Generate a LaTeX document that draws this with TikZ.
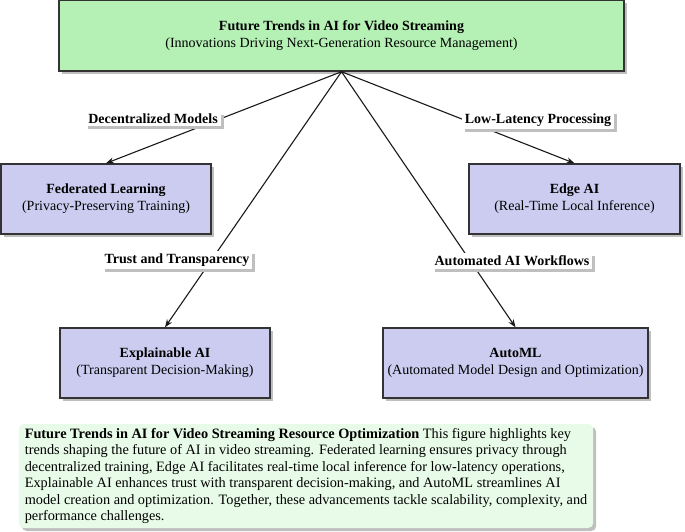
\documentclass[tikz,border=0pt]{standalone}
\usepackage{fontspec}
\setmainfont{Liberation Serif}
\usetikzlibrary{shadows,arrows.meta}
\definecolor{topfill}{HTML}{B5F0B5}
\definecolor{boxfill}{HTML}{CCCCF0}
\definecolor{capfill}{HTML}{E8FAE8}
\definecolor{edgecol}{HTML}{333333}
\begin{document}
\begin{tikzpicture}[x=1pt,y=-1pt,
  font=\fontsize{14}{17}\selectfont,
  shad/.style={drop shadow={shadow xshift=3pt,shadow yshift=-3pt,fill=black!25,opacity=1}},
  mainbox/.style={draw=edgecol,line width=1.4pt,fill=topfill,shad,align=center,inner sep=0pt},
  trendbox/.style={draw=edgecol,line width=1.4pt,fill=boxfill,shad,align=center,inner sep=0pt},
  lbl/.style={fill=white,shad,inner xsep=3pt,inner ysep=2.5pt,font=\fontsize{14}{15}\selectfont\bfseries},
  conn/.style={line width=1.1pt,draw=black!90,-{Stealth[length=8pt,width=6pt]}},
  capbox/.style={fill=capfill,rounded corners=5pt,shad,align=left,inner xsep=6pt,inner ysep=0pt,font=\fontsize{14.3}{16.4}\selectfont}
]
\useasboundingbox (0,0) rectangle (685,531);
\node[mainbox,minimum width=565pt,minimum height=71pt] (top) at (341.5,35.5)
  {\textbf{Future Trends in AI for Video Streaming}\\(Innovations Driving Next-Generation Resource Management)};
\node[trendbox,minimum width=210pt,minimum height=70pt] (fed) at (106,199)
  {\textbf{Federated Learning}\\(Privacy-Preserving Training)};
\node[trendbox,minimum width=211pt,minimum height=70pt] (edge) at (574.5,199)
  {\textbf{Edge AI}\\(Real-Time Local Inference)};
\node[trendbox,minimum width=210pt,minimum height=70pt] (expl) at (165,363)
  {\textbf{Explainable AI}\\(Transparent Decision-Making)};
\node[trendbox,minimum width=265pt,minimum height=70pt] (automl) at (515.5,363)
  {\textbf{AutoML}\\(Automated Model Design and Optimization)};
\draw[conn] (top.south) -- (fed.north);
\draw[conn] (top.south) -- (edge.north);
\draw[conn] (top.south) -- (expl.north);
\draw[conn] (top.south) -- (automl.north);
\node[lbl] (l1) at (153,119) {Decentralized Models};
\node[lbl] (l2) at (538,120) {Low-Latency Processing};
\node[lbl] (l3) at (177,260) {Trust and Transparency};
\node[lbl] (l4) at (512,261) {Automated AI Workflows};
\node[capbox,minimum width=574pt,minimum height=104pt] (cap) at (306,476)
  {\textbf{Future Trends in AI for Video Streaming Resource Optimization} This figure highlights key\\
   trends shaping the future of AI in video streaming. Federated learning ensures privacy through\\
   decentralized training, Edge AI facilitates real-time local inference for low-latency operations,\\
   Explainable AI enhances trust with transparent decision-making, and AutoML streamlines AI\\
   model creation and optimization. Together, these advancements tackle scalability, complexity, and\\
   performance challenges.};
\end{tikzpicture}
\end{document}
